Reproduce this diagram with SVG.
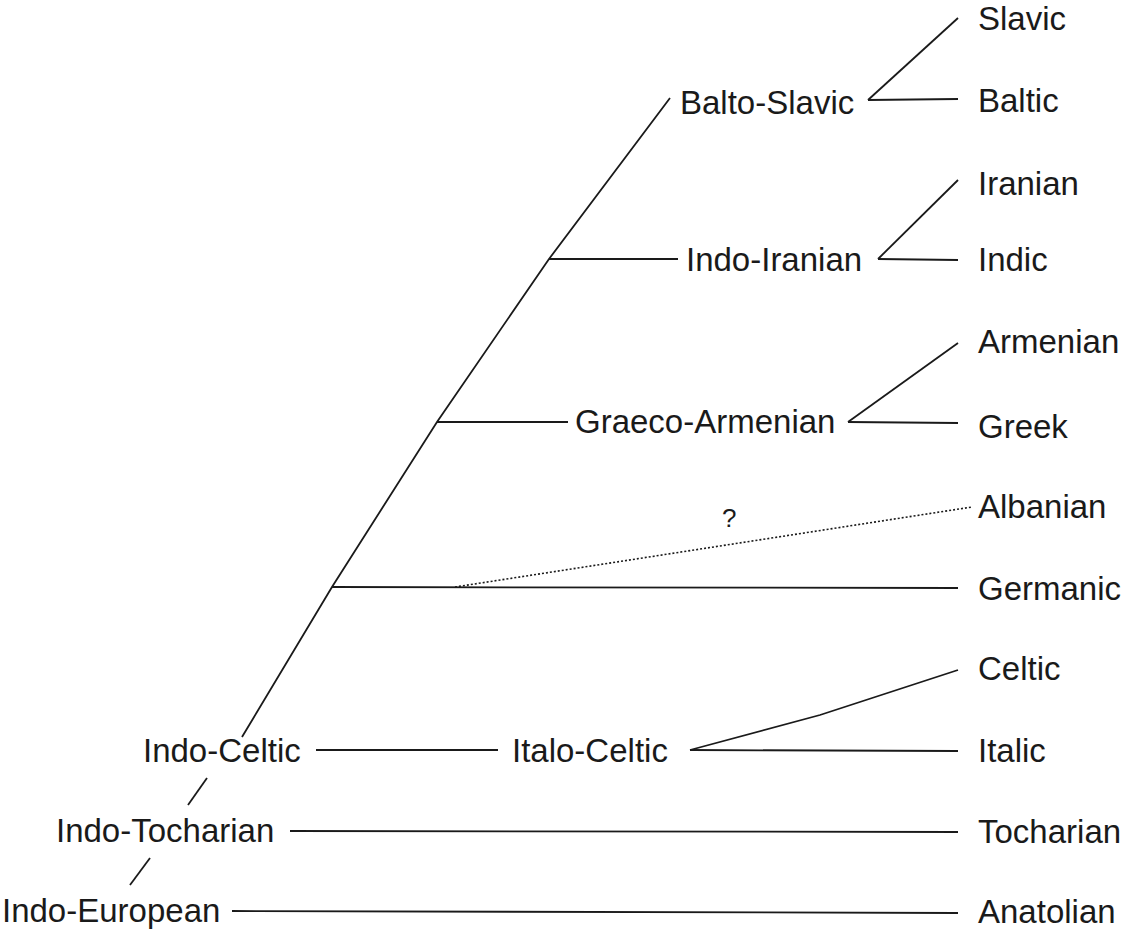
<svg xmlns="http://www.w3.org/2000/svg" width="1122" height="932" viewBox="0 0 1122 932">
<style>
text{font-family:"Liberation Sans",Arial,sans-serif;font-size:33px;fill:#1a1a1a}
line,polyline{stroke:#1a1a1a;stroke-width:1.8;fill:none}
.dot{stroke-dasharray:2 2;stroke-width:1.6}
</style>
<rect width="1122" height="932" fill="#fff"/>
<g id="connectors">
<polyline points="242,737 332,587 437,422 549,259 670,98"/>
<line x1="868" y1="100" x2="958" y2="18"/>
<line x1="868" y1="100" x2="958" y2="99"/>
<line x1="549" y1="259" x2="678" y2="259"/>
<line x1="878" y1="259" x2="958" y2="180"/>
<line x1="878" y1="259" x2="958" y2="260"/>
<line x1="437" y1="422" x2="568" y2="422"/>
<line x1="848" y1="422" x2="958" y2="343"/>
<line x1="848" y1="422" x2="958" y2="423"/>
<line class="dot" x1="455" y1="587" x2="972" y2="507"/>
<line x1="332" y1="587" x2="958" y2="588"/>
<line x1="316" y1="750" x2="498" y2="750"/>
<polyline points="690,750 820,715 958,670"/>
<line x1="690" y1="750" x2="958" y2="751"/>
<line x1="290" y1="831" x2="958" y2="832"/>
<line x1="232" y1="911" x2="958" y2="913"/>
<line x1="207" y1="778" x2="188" y2="805"/>
<line x1="150" y1="858" x2="130" y2="885"/>
</g>
<g id="n-slavic"><text x="978" y="30">Slavic</text></g>
<g id="n-baltic"><text x="978" y="112">Baltic</text></g>
<g id="n-iranian"><text x="978" y="195">Iranian</text></g>
<g id="n-indic"><text x="978" y="271">Indic</text></g>
<g id="n-armenian"><text x="978" y="353">Armenian</text></g>
<g id="n-greek"><text x="978" y="438">Greek</text></g>
<g id="n-albanian"><text x="978" y="518">Albanian</text></g>
<g id="n-germanic"><text x="978" y="600">Germanic</text></g>
<g id="n-celtic"><text x="978" y="680">Celtic</text></g>
<g id="n-italic"><text x="978" y="762">Italic</text></g>
<g id="n-tocharian"><text x="978" y="843">Tocharian</text></g>
<g id="n-anatolian"><text x="978" y="923">Anatolian</text></g>
<g id="n-baltoslavic"><text x="680" y="114">Balto-Slavic</text></g>
<g id="n-indoiranian"><text x="686" y="271">Indo-Iranian</text></g>
<g id="n-graecoarmenian"><text x="575" y="433">Graeco-Armenian</text></g>
<g id="n-q"><text x="722" y="527" style="font-size:26px">?</text></g>
<g id="n-indoceltic"><text x="143" y="762">Indo-Celtic</text></g>
<g id="n-italoceltic"><text x="512" y="762">Italo-Celtic</text></g>
<g id="n-indotocharian"><text x="56" y="842">Indo-Tocharian</text></g>
<g id="n-indoeuropean"><text x="2" y="922">Indo-European</text></g>
</svg>
